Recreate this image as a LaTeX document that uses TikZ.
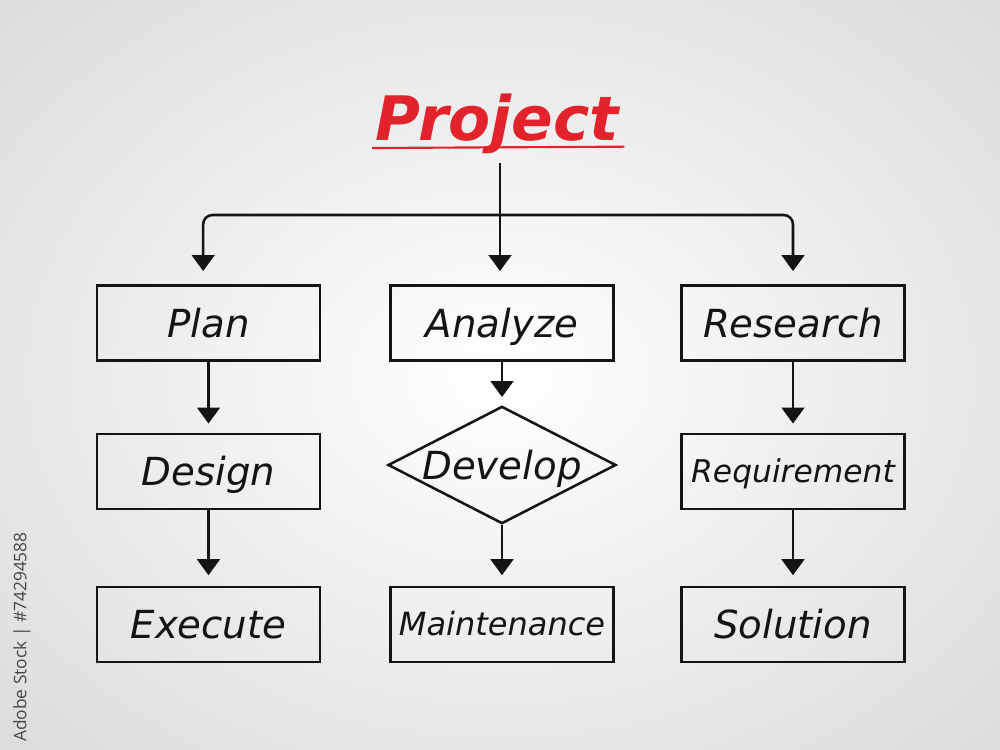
\documentclass[tikz,border=0pt]{standalone}
\usepackage{fontspec}
\setmainfont{DejaVu Sans}
\newfontfamily\stockfont{Open Sans}
\usetikzlibrary{shapes.geometric,arrows.meta}
\definecolor{ink}{HTML}{141414}
\definecolor{pred}{HTML}{E3232C}
\definecolor{bgedge}{HTML}{DCDCDC}
\begin{document}
\begin{tikzpicture}[x=0.75pt,y=-0.75pt,
  box/.style={draw=ink, line width=1.9pt, minimum width=167pt, minimum height=56pt,
    inner sep=0pt, text=ink, text height=21pt, text depth=0pt, font=\fontsize{29}{32}\selectfont\itshape},
  dia/.style={diamond, draw=ink, line width=1.9pt, minimum width=171pt, minimum height=88pt,
    inner sep=0pt},
  ln/.style={draw=ink, line width=1.9pt},
  arr/.style={ln, -{Triangle[width=17pt,length=12pt]}, rounded corners=7pt},
  title/.style={text=pred, font=\fontsize{46}{50}\selectfont\bfseries\itshape, inner sep=0pt},
  stock/.style={text=black!72, font=\stockfont\fontsize{13}{15}\selectfont, inner sep=0pt}
]
\useasboundingbox (0,0) rectangle (1000,750);
\shade[inner color=white, outer color=bgedge] (-200,-160) rectangle (1200,910);

% title
\node[title, anchor=base] (project) at (497,140) {Project};
\draw[pred, line width=1.6pt] ([xshift=-2pt,yshift=-6pt]project.base west) -- ([xshift=4pt,yshift=-5pt]project.base east);
\coordinate (stemtop) at (500,163);
\coordinate (j) at (500,215);

% boxes
\node[box] (plan) at (208.5,323) {Plan};
\node[box] (analyze) at (502,323) {Analyze};
\node[box] (research) at (793,323) {Research};
\node[box] (design) at (208.5,471.5) {Design};
\node[dia] (develop) at (502,465) {};
\node[text=ink, font=\fontsize{29}{32}\selectfont\itshape, inner sep=0pt, text height=21pt, text depth=0pt] (developtext) at (develop.center) {Develop};
\node[box, font=\fontsize{23.5}{26}\selectfont\itshape, text height=17pt] (requirement) at (793,471.5) {Requirement};
\node[box, font=\fontsize{24}{26}\selectfont\itshape, text height=17pt] (maintenance) at (502,624.5) {Maintenance};
\node[box] (execute) at (208.5,624.5) {Execute};
\node[box] (solution) at (793,624.5) {Solution};

% connectors
\draw[arr, shorten >=10pt] (stemtop) -- (stemtop |- analyze.north);
\draw[arr, shorten >=10pt] (j) -| ([xshift=-4pt]plan.north);
\draw[arr, shorten >=10pt] (j) -| (research.north);
\draw[arr, shorten >=6pt] (analyze.south) -- (develop.north);
\draw[arr, shorten >=7pt] (plan.south) -- (design.north);
\draw[arr, shorten >=7pt] (research.south) -- (requirement.north);
\draw[arr, shorten >=8pt] (design.south) -- (execute.north);
\draw[arr, shorten >=8pt] (develop.south) -- (maintenance.north);
\draw[arr, shorten >=8pt] (requirement.south) -- (solution.north);

% vertical stock label
\node[stock, rotate=90, anchor=west] (stocklabel) at (22,742) {Adobe Stock | \#74294588};
\end{tikzpicture}
\end{document}
